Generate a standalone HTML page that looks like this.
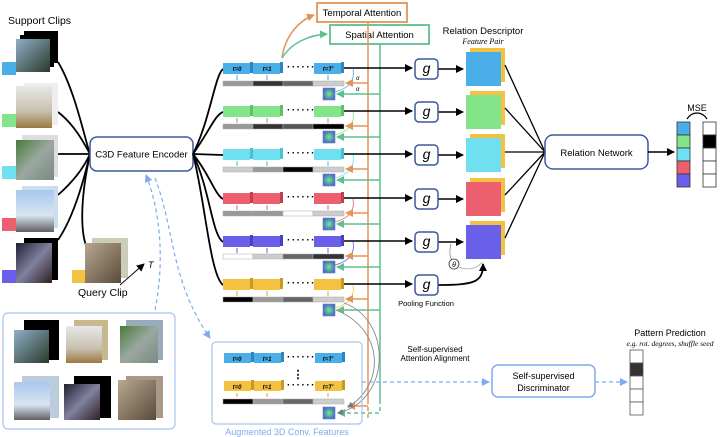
<!DOCTYPE html>
<html><head><meta charset="utf-8"><style>
html,body{margin:0;padding:0;background:#fff;}
svg{display:block;font-family:"Liberation Sans",sans-serif;}
</style></head><body>
<svg width="720" height="437" viewBox="0 0 720 437" xmlns="http://www.w3.org/2000/svg">
<defs>
<marker id="ak" markerWidth="8" markerHeight="8" refX="7" refY="4" orient="auto" markerUnits="userSpaceOnUse"><path d="M0,0 L8,4 L0,8 z" fill="#000"/></marker>
<marker id="ao" markerWidth="8" markerHeight="8" refX="7" refY="4" orient="auto" markerUnits="userSpaceOnUse"><path d="M0,0 L8,4 L0,8 z" fill="#e0955a"/></marker>
<marker id="ag" markerWidth="8" markerHeight="8" refX="7" refY="4" orient="auto" markerUnits="userSpaceOnUse"><path d="M0,0 L8,4 L0,8 z" fill="#5fbf8f"/></marker>
<marker id="ab" markerWidth="8" markerHeight="8" refX="7" refY="4" orient="auto" markerUnits="userSpaceOnUse"><path d="M0,0 L8,4 L0,8 z" fill="#7faaf0"/></marker>
<marker id="ay" markerWidth="6" markerHeight="6" refX="5" refY="3" orient="auto" markerUnits="userSpaceOnUse"><path d="M0,0 L6,3 L0,6 z" fill="#777"/></marker>
<radialGradient id="sq"><stop offset="0" stop-color="#6ef07a"/><stop offset="1" stop-color="#4a6fc8"/></radialGradient>
<linearGradient id="p1" x1="0" y1="0" x2="1" y2="1"><stop offset="0" stop-color="#8fb0c8"/><stop offset="1" stop-color="#2a3a2a"/></linearGradient>
<linearGradient id="p2" x1="0" y1="0" x2="0" y2="1"><stop offset="0" stop-color="#e8e8e8"/><stop offset="0.6" stop-color="#c8c0b0"/><stop offset="1" stop-color="#9a7a40"/></linearGradient>
<linearGradient id="p3" x1="0" y1="0" x2="1" y2="1"><stop offset="0" stop-color="#4a7a3a"/><stop offset="0.5" stop-color="#9aa8a0"/><stop offset="1" stop-color="#7a8a80"/></linearGradient>
<linearGradient id="p4" x1="0" y1="0" x2="0" y2="1"><stop offset="0" stop-color="#a8c8ee"/><stop offset="0.6" stop-color="#d8e4f0"/><stop offset="1" stop-color="#606060"/></linearGradient>
<linearGradient id="p5" x1="0" y1="0" x2="1" y2="1"><stop offset="0" stop-color="#202030"/><stop offset="0.5" stop-color="#8080a0"/><stop offset="1" stop-color="#302020"/></linearGradient>
<linearGradient id="p6" x1="0" y1="0" x2="1" y2="1"><stop offset="0" stop-color="#b8a890"/><stop offset="1" stop-color="#5a4a3a"/></linearGradient>
</defs>

<text x="8" y="24" font-size="10.5">Support Clips</text>
<g stroke="#000" stroke-width="1.8" fill="none">
<path d="M58,62 C75,90 85,140 90,154"/>
<path d="M58,112 C75,125 85,145 90,154"/>
<path d="M58,154 L90,154"/>
<path d="M58,195 C75,180 85,165 90,154"/>
<path d="M58,240 C75,215 85,175 90,154"/>
<path d="M90,154 C80,200 80,235 88,250"/>
</g>
<g>
<rect x="24" y="31" width="34" height="32" fill="#000"/><rect x="20" y="35" width="34" height="32" fill="#000"/><rect x="16" y="39" width="34" height="33" fill="url(#p1)"/>
<rect x="2" y="62" width="14" height="13" fill="#4aaee8"/>
<rect x="24" y="83" width="34" height="42" fill="#eee"/><rect x="16" y="86" width="36" height="42" fill="url(#p2)"/>
<rect x="2" y="114" width="14" height="13" fill="#84e48a"/>
<rect x="22" y="135" width="36" height="42" fill="#ddd"/><rect x="16" y="140" width="38" height="40" fill="url(#p3)"/>
<rect x="2" y="166" width="14" height="13" fill="#6fe0f0"/>
<rect x="22" y="186" width="36" height="42" fill="#cde"/><rect x="16" y="190" width="38" height="42" fill="url(#p4)"/>
<rect x="2" y="218" width="14" height="13" fill="#ec5f6e"/>
<rect x="24" y="238" width="34" height="42" fill="#000"/><rect x="16" y="243" width="36" height="40" fill="url(#p5)"/>
<rect x="2" y="270" width="14" height="13" fill="#6a5fe8"/>
<rect x="92" y="238" width="36" height="40" fill="#ccb"/><rect x="85" y="243" width="36" height="40" fill="url(#p6)"/>
<rect x="72" y="270" width="13" height="13" fill="#f4c242"/>
</g>
<text x="78" y="296" font-size="10.5">Query Clip</text>
<line x1="120" y1="285" x2="144" y2="264" stroke="#000" stroke-width="1" marker-end="url(#ak)"/>
<text x="148" y="268" font-size="9" font-style="italic">T</text>

<rect x="90" y="137" width="103" height="34" rx="7" fill="#fff" stroke="#3c5a99" stroke-width="1.5"/>
<text x="141.5" y="157.5" font-size="9.5" text-anchor="middle">C3D Feature Encoder</text>
<path d="M155,310 C165,260 160,210 146,175" stroke="#7faaf0" stroke-width="1.2" fill="none" stroke-dasharray="4,3" marker-end="url(#ab)"/>
<path d="M155,178 C175,230 170,280 210,338" stroke="#7faaf0" stroke-width="1.2" fill="none" stroke-dasharray="4,3" marker-end="url(#ab)"/>

<g stroke="#000" stroke-width="1.8" fill="none">
<path d="M193,154 C210,120 215,75 223,69"/>
<path d="M193,154 C210,130 215,115 223,112"/>
<path d="M193,154 L223,155"/>
<path d="M193,154 C210,175 215,195 223,199"/>
<path d="M193,154 C210,190 212,235 223,242"/>
<path d="M193,154 C205,200 210,275 223,285"/>
</g>

<rect x="3" y="313" width="172" height="116" rx="5" fill="#fff" stroke="#a8c4f0" stroke-width="1.2"/>
<rect x="24" y="320" width="35" height="40" fill="#000"/><rect x="14" y="330" width="35" height="33" fill="url(#p1)"/>
<rect x="74" y="320" width="34" height="40" fill="#c8b890"/><rect x="66" y="326" width="36" height="37" fill="url(#p2)"/>
<rect x="126" y="320" width="37" height="40" fill="#9ab"/><rect x="120" y="326" width="38" height="37" fill="url(#p3)"/>
<rect x="22" y="376" width="37" height="42" fill="#bcd"/><rect x="14" y="382" width="36" height="38" fill="url(#p4)"/>
<rect x="74" y="376" width="37" height="42" fill="#000"/><rect x="64" y="384" width="36" height="36" fill="url(#p5)"/>
<rect x="126" y="376" width="37" height="42" fill="#a98"/><rect x="118" y="380" width="38" height="40" fill="url(#p6)"/>

<rect x="317" y="3" width="90" height="19" fill="#fff" stroke="#e0955a" stroke-width="1.8"/>
<text x="362" y="16" font-size="9.5" text-anchor="middle">Temporal Attention</text>
<rect x="330" y="25" width="99" height="19" fill="#fff" stroke="#5fbf8f" stroke-width="1.8"/>
<text x="379.5" y="38" font-size="9.5" text-anchor="middle">Spatial Attention</text>
<path d="M282,58 C285,35 300,20 314,15" stroke="#e0955a" stroke-width="1.5" fill="none" marker-end="url(#ao)"/>
<path d="M282,58 C292,42 310,35 327,34" stroke="#5fbf8f" stroke-width="1.5" fill="none" marker-end="url(#ag)"/>
<line x1="368" y1="22" x2="368" y2="400" stroke="#e0955a" stroke-width="1.5"/>
<line x1="380" y1="44" x2="380" y2="400" stroke="#5fbf8f" stroke-width="1.5"/>
<line x1="368" y1="400" x2="368" y2="420" stroke="#e0955a" stroke-width="1.5" stroke-dasharray="4,3"/>
<path d="M380,400 L380,413 L338,413" stroke="#5fbf8f" stroke-width="1.5" fill="none" stroke-dasharray="4,3" marker-end="url(#ag)"/>
<path d="M368,406 L348,406" stroke="#e0955a" stroke-width="1.5" fill="none" marker-end="url(#ao)"/>

<g>
<rect x="223" y="63" width="27" height="11" fill="#4aaee8"/><rect x="250" y="62" width="3" height="11" fill="#2f85c0"/>
<rect x="253" y="63" width="27" height="11" fill="#4aaee8"/><rect x="280" y="62" width="3" height="11" fill="#2f85c0"/>
<rect x="314" y="63" width="27" height="11" fill="#4aaee8"/><rect x="341" y="62" width="3" height="11" fill="#2f85c0"/>
<rect x="223" y="106" width="27" height="11" fill="#84e48a"/><rect x="250" y="105" width="3" height="11" fill="#5fc068"/>
<rect x="253" y="106" width="27" height="11" fill="#84e48a"/><rect x="280" y="105" width="3" height="11" fill="#5fc068"/>
<rect x="314" y="106" width="27" height="11" fill="#84e48a"/><rect x="341" y="105" width="3" height="11" fill="#5fc068"/>
<rect x="223" y="149" width="27" height="11" fill="#6fe0f0"/><rect x="250" y="148" width="3" height="11" fill="#4cbfd0"/>
<rect x="253" y="149" width="27" height="11" fill="#6fe0f0"/><rect x="280" y="148" width="3" height="11" fill="#4cbfd0"/>
<rect x="314" y="149" width="27" height="11" fill="#6fe0f0"/><rect x="341" y="148" width="3" height="11" fill="#4cbfd0"/>
<rect x="223" y="193" width="27" height="11" fill="#ec5f6e"/><rect x="250" y="192" width="3" height="11" fill="#c04050"/>
<rect x="253" y="193" width="27" height="11" fill="#ec5f6e"/><rect x="280" y="192" width="3" height="11" fill="#c04050"/>
<rect x="314" y="193" width="27" height="11" fill="#ec5f6e"/><rect x="341" y="192" width="3" height="11" fill="#c04050"/>
<rect x="223" y="236" width="27" height="11" fill="#6a5fe8"/><rect x="250" y="235" width="3" height="11" fill="#4a40c0"/>
<rect x="253" y="236" width="27" height="11" fill="#6a5fe8"/><rect x="280" y="235" width="3" height="11" fill="#4a40c0"/>
<rect x="314" y="236" width="27" height="11" fill="#6a5fe8"/><rect x="341" y="235" width="3" height="11" fill="#4a40c0"/>
<rect x="223" y="279" width="27" height="11" fill="#f4c242"/><rect x="250" y="278" width="3" height="11" fill="#c89a20"/>
<rect x="253" y="279" width="27" height="11" fill="#f4c242"/><rect x="280" y="278" width="3" height="11" fill="#c89a20"/>
<rect x="314" y="279" width="27" height="11" fill="#f4c242"/><rect x="341" y="278" width="3" height="11" fill="#c89a20"/>
</g>
<g font-size="6" font-style="italic" font-weight="bold" text-anchor="middle">
<text x="237" y="71">t=0</text><text x="267" y="71">t=1</text><text x="328" y="71">t=T'</text>
</g>
<g font-size="10" font-weight="bold" letter-spacing="1.5"><text x="287" y="70">······</text><text x="287" y="113">······</text><text x="287" y="156">······</text><text x="287" y="200">······</text><text x="287" y="243">······</text><text x="287" y="286">······</text></g>
<text x="356" y="80" font-size="6" font-style="italic">α</text><text x="356" y="91" font-size="6" font-style="italic">α</text>

<g stroke="#aaa" stroke-width="0.5">
<rect x="223" y="81" width="30" height="5" fill="#999"/><rect x="253" y="81" width="30" height="5" fill="#333"/><rect x="283" y="81" width="30" height="5" fill="#666"/><rect x="313" y="81" width="31" height="5" fill="#ccc"/>
<rect x="223" y="124" width="30" height="5" fill="#999"/><rect x="253" y="124" width="30" height="5" fill="#333"/><rect x="283" y="124" width="30" height="5" fill="#555"/><rect x="313" y="124" width="31" height="5" fill="#000"/>
<rect x="223" y="167" width="30" height="5" fill="#ccc"/><rect x="253" y="167" width="30" height="5" fill="#999"/><rect x="283" y="167" width="30" height="5" fill="#000"/><rect x="313" y="167" width="31" height="5" fill="#ccc"/>
<rect x="223" y="211" width="30" height="5" fill="#999"/><rect x="253" y="211" width="30" height="5" fill="#999"/><rect x="283" y="211" width="30" height="5" fill="#fff"/><rect x="313" y="211" width="31" height="5" fill="#ccc"/>
<rect x="223" y="254" width="30" height="5" fill="#fff"/><rect x="253" y="254" width="30" height="5" fill="#ccc"/><rect x="283" y="254" width="30" height="5" fill="#666"/><rect x="313" y="254" width="31" height="5" fill="#333"/>
<rect x="223" y="297" width="30" height="5" fill="#000"/><rect x="253" y="297" width="30" height="5" fill="#999"/><rect x="283" y="297" width="30" height="5" fill="#666"/><rect x="313" y="297" width="31" height="5" fill="#ccc"/>
</g>
<g stroke="#6a7ac8" stroke-width="0.6" fill="url(#sq)">
<rect x="323" y="88" width="12" height="12"/><rect x="323" y="131" width="12" height="12"/><rect x="323" y="174" width="12" height="12"/><rect x="323" y="218" width="12" height="12"/><rect x="323" y="261" width="12" height="12"/><rect x="323" y="304" width="12" height="12"/>
</g>
<g stroke-width="0.8" fill="none">
<path d="M335,92 C350,88 355,80 353,69" stroke="#4aaee8"/>
<path d="M335,135 C350,131 355,123 353,112" stroke="#84e48a"/>
<path d="M335,178 C350,174 355,166 353,155" stroke="#6fe0f0"/>
<path d="M335,222 C350,218 355,210 353,199" stroke="#ec5f6e"/>
<path d="M335,265 C350,261 355,253 353,242" stroke="#6a5fe8"/>
<path d="M335,308 C350,304 355,296 353,285" stroke="#f4c242"/>
</g>
<g stroke-width="1">
<path d="M237,80 V75 M267,80 V75 M328,80 V75" stroke="#4aaee8"/>
<path d="M237,123 V118 M267,123 V118 M328,123 V118" stroke="#5fc068"/>
<path d="M237,166 V161 M267,166 V161 M328,166 V161" stroke="#4cbfd0"/>
<path d="M237,210 V205 M267,210 V205 M328,210 V205" stroke="#ec5f6e"/>
<path d="M237,253 V248 M267,253 V248 M328,253 V248" stroke="#6a5fe8"/>
<path d="M237,296 V291 M267,296 V291 M328,296 V291" stroke="#e0a020"/>
</g>
<g stroke-width="1.5" fill="none">
<path d="M368,83 H346" stroke="#e0955a" marker-end="url(#ao)"/><path d="M380,94 H337" stroke="#5fbf8f" marker-end="url(#ag)"/>
<path d="M368,126 H346" stroke="#e0955a" marker-end="url(#ao)"/><path d="M380,137 H337" stroke="#5fbf8f" marker-end="url(#ag)"/>
<path d="M368,169 H346" stroke="#e0955a" marker-end="url(#ao)"/><path d="M380,180 H337" stroke="#5fbf8f" marker-end="url(#ag)"/>
<path d="M368,213 H346" stroke="#e0955a" marker-end="url(#ao)"/><path d="M380,224 H337" stroke="#5fbf8f" marker-end="url(#ag)"/>
<path d="M368,256 H346" stroke="#e0955a" marker-end="url(#ao)"/><path d="M380,267 H337" stroke="#5fbf8f" marker-end="url(#ag)"/>
<path d="M368,299 H346" stroke="#e0955a" marker-end="url(#ao)"/><path d="M380,310 H337" stroke="#5fbf8f" marker-end="url(#ag)"/>
</g>
<g stroke="#000" stroke-width="1.5" fill="none">
<path d="M344,68 H412" marker-end="url(#ak)"/><path d="M344,111 H412" marker-end="url(#ak)"/><path d="M344,154 H412" marker-end="url(#ak)"/>
<path d="M344,198 H412" marker-end="url(#ak)"/><path d="M344,241 H412" marker-end="url(#ak)"/><path d="M344,284 H412" marker-end="url(#ak)"/>
<path d="M438,69 H463" marker-end="url(#ak)"/><path d="M438,112 H463" marker-end="url(#ak)"/><path d="M438,155 H463" marker-end="url(#ak)"/>
<path d="M438,199 H463" marker-end="url(#ak)"/><path d="M438,242 H463" marker-end="url(#ak)"/>
<path d="M438,285 C475,285 483,282 483,264" stroke-width="1.8" marker-end="url(#ak)"/>
</g>
<g fill="#fff" stroke="#3c5a99" stroke-width="1.5">
<rect x="415" y="59" width="23" height="20" rx="4"/><rect x="415" y="102" width="23" height="20" rx="4"/><rect x="415" y="145" width="23" height="20" rx="4"/>
<rect x="415" y="189" width="23" height="20" rx="4"/><rect x="415" y="232" width="23" height="20" rx="4"/><rect x="415" y="275" width="23" height="20" rx="4"/>
</g>
<g font-size="14" font-style="italic" text-anchor="middle"><text x="426.5" y="73">g</text><text x="426.5" y="116">g</text><text x="426.5" y="159">g</text><text x="426.5" y="203">g</text><text x="426.5" y="246">g</text><text x="426.5" y="289">g</text></g>
<text x="426" y="306" font-size="7.5" text-anchor="middle">Pooling Function</text>
<path d="M451,244 C449,252 450,258 452,260" stroke="#888" stroke-width="0.8" fill="none"/>
<circle cx="454" cy="264" r="5" fill="#fff" stroke="#333" stroke-width="0.8"/><text x="454" y="267" font-size="7" font-style="italic" text-anchor="middle">θ</text>
<path d="M459,267 C468,271 478,268 482,262" stroke="#aaa" stroke-width="0.8" fill="none"/>

<text x="483" y="34" font-size="9.5" text-anchor="middle">Relation Descriptor</text>
<text x="483" y="44" font-size="8" font-style="italic" text-anchor="middle" font-family="Liberation Serif,serif">Feature Pair</text>
<g>
<rect x="470" y="48" width="35" height="34" fill="#f4c242"/><rect x="466" y="52" width="35" height="34" fill="#4aaee8"/>
<rect x="470" y="91" width="35" height="34" fill="#f4c242"/><rect x="466" y="95" width="35" height="34" fill="#84e48a"/>
<rect x="470" y="134" width="35" height="34" fill="#f4c242"/><rect x="466" y="138" width="35" height="34" fill="#6fe0f0"/>
<rect x="470" y="178" width="35" height="34" fill="#f4c242"/><rect x="466" y="182" width="35" height="34" fill="#ec5f6e"/>
<rect x="470" y="221" width="35" height="34" fill="#f4c242"/><rect x="466" y="225" width="35" height="34" fill="#6a5fe8"/>
</g>
<g stroke="#000" stroke-width="1.3"><line x1="505" y1="65" x2="545" y2="152"/><line x1="505" y1="108" x2="545" y2="152"/><line x1="505" y1="152" x2="545" y2="152"/><line x1="505" y1="195" x2="545" y2="152"/><line x1="505" y1="238" x2="545" y2="152"/></g>
<rect x="545" y="135" width="103" height="34" rx="8" fill="#fff" stroke="#3c5a99" stroke-width="1.5"/>
<text x="596.5" y="156" font-size="9.5" text-anchor="middle">Relation Network</text>
<path d="M648,152 H674" stroke="#000" stroke-width="1.5" marker-end="url(#ak)"/>
<g stroke="#333" stroke-width="0.8">
<rect x="677" y="122" width="13" height="13" fill="#4aaee8"/><rect x="677" y="135" width="13" height="13" fill="#84e48a"/><rect x="677" y="148" width="13" height="13" fill="#6fe0f0"/><rect x="677" y="161" width="13" height="13" fill="#ec5f6e"/><rect x="677" y="174" width="13" height="13" fill="#6a5fe8"/>
<rect x="703" y="122" width="13" height="13" fill="#fff"/><rect x="703" y="135" width="13" height="13" fill="#000"/><rect x="703" y="148" width="13" height="13" fill="#fff"/><rect x="703" y="161" width="13" height="13" fill="#fff"/><rect x="703" y="174" width="13" height="13" fill="#fff"/>
</g>
<text x="697" y="111" font-size="9" text-anchor="middle">MSE</text>
<path d="M687,119 C692,111 702,111 707,119" stroke="#000" stroke-width="1.2" fill="none"/>

<path d="M336,310 C385,330 385,385 348,407" stroke="#888" stroke-width="0.9" fill="none" marker-end="url(#ay)"/>
<path d="M344,303 C392,320 392,400 338,413" stroke="#888" stroke-width="0.9" fill="none" marker-end="url(#ay)"/>
<text x="435" y="352" font-size="8" text-anchor="middle">Self-supervised</text>
<text x="435" y="361" font-size="8" text-anchor="middle">Attention Alignment</text>
<rect x="212" y="342" width="150" height="82" rx="4" fill="none" stroke="#a8c4f0" stroke-width="1.2"/>
<text x="287" y="435" font-size="9" fill="#7faaf0" text-anchor="middle">Augmented 3D Conv. Features</text>
<g>
<rect x="224" y="353" width="27" height="10" fill="#4aaee8"/><rect x="251" y="352" width="3" height="10" fill="#2f85c0"/>
<rect x="254" y="353" width="27" height="10" fill="#4aaee8"/><rect x="281" y="352" width="3" height="10" fill="#2f85c0"/>
<rect x="315" y="353" width="27" height="10" fill="#4aaee8"/><rect x="342" y="352" width="3" height="10" fill="#2f85c0"/>
<rect x="224" y="381" width="27" height="10" fill="#f4c242"/><rect x="251" y="380" width="3" height="10" fill="#c89a20"/>
<rect x="254" y="381" width="27" height="10" fill="#f4c242"/><rect x="281" y="380" width="3" height="10" fill="#c89a20"/>
<rect x="315" y="381" width="27" height="10" fill="#f4c242"/><rect x="342" y="380" width="3" height="10" fill="#c89a20"/>
</g>
<g font-size="6" font-style="italic" font-weight="bold" text-anchor="middle">
<text x="237" y="361">t=0</text><text x="267" y="361">t=1</text><text x="328" y="361">t=T'</text>
<text x="237" y="389">t=0</text><text x="267" y="389">t=1</text><text x="328" y="389">t=T'</text>
</g>
<g font-size="10" font-weight="bold" letter-spacing="1.5"><text x="287" y="360">······</text><text x="287" y="388">······</text></g>
<text x="298" y="378" font-size="11" font-weight="bold" text-anchor="middle">⋮</text>
<path d="M237,397 V393 M267,397 V393 M328,397 V393" stroke="#e0a020"/>
<g stroke="#aaa" stroke-width="0.5">
<rect x="223" y="399" width="30" height="5" fill="#000"/><rect x="253" y="399" width="30" height="5" fill="#999"/><rect x="283" y="399" width="30" height="5" fill="#666"/><rect x="313" y="399" width="31" height="5" fill="#ccc"/>
</g>
<rect x="323" y="407" width="12" height="12" fill="url(#sq)" stroke="#6a7ac8" stroke-width="0.6"/>
<path d="M362,382 H489" stroke="#7faaf0" stroke-width="1.2" stroke-dasharray="4,3" fill="none" marker-end="url(#ab)"/>
<rect x="492" y="365" width="103" height="32" rx="6" fill="#fff" stroke="#7faaf0" stroke-width="1.5"/>
<text x="543.5" y="379" font-size="9" text-anchor="middle">Self-supervised</text>
<text x="543.5" y="391" font-size="9" text-anchor="middle">Discriminator</text>
<path d="M595,382 H627" stroke="#7faaf0" stroke-width="1.2" stroke-dasharray="4,3" fill="none" marker-end="url(#ab)"/>
<text x="670" y="336" font-size="9" text-anchor="middle">Pattern Prediction</text>
<text x="670" y="346" font-size="7.5" font-style="italic" text-anchor="middle" font-family="Liberation Serif,serif">e.g. rot. degrees, shuffle seed</text>
<g stroke="#555" stroke-width="0.8">
<rect x="630" y="350" width="13" height="13" fill="#fff"/><rect x="630" y="363" width="13" height="13" fill="#333"/><rect x="630" y="376" width="13" height="13" fill="#fff"/><rect x="630" y="389" width="13" height="13" fill="#fff"/><rect x="630" y="402" width="13" height="13" fill="#fff"/>
</g>
</svg>
</body></html>
